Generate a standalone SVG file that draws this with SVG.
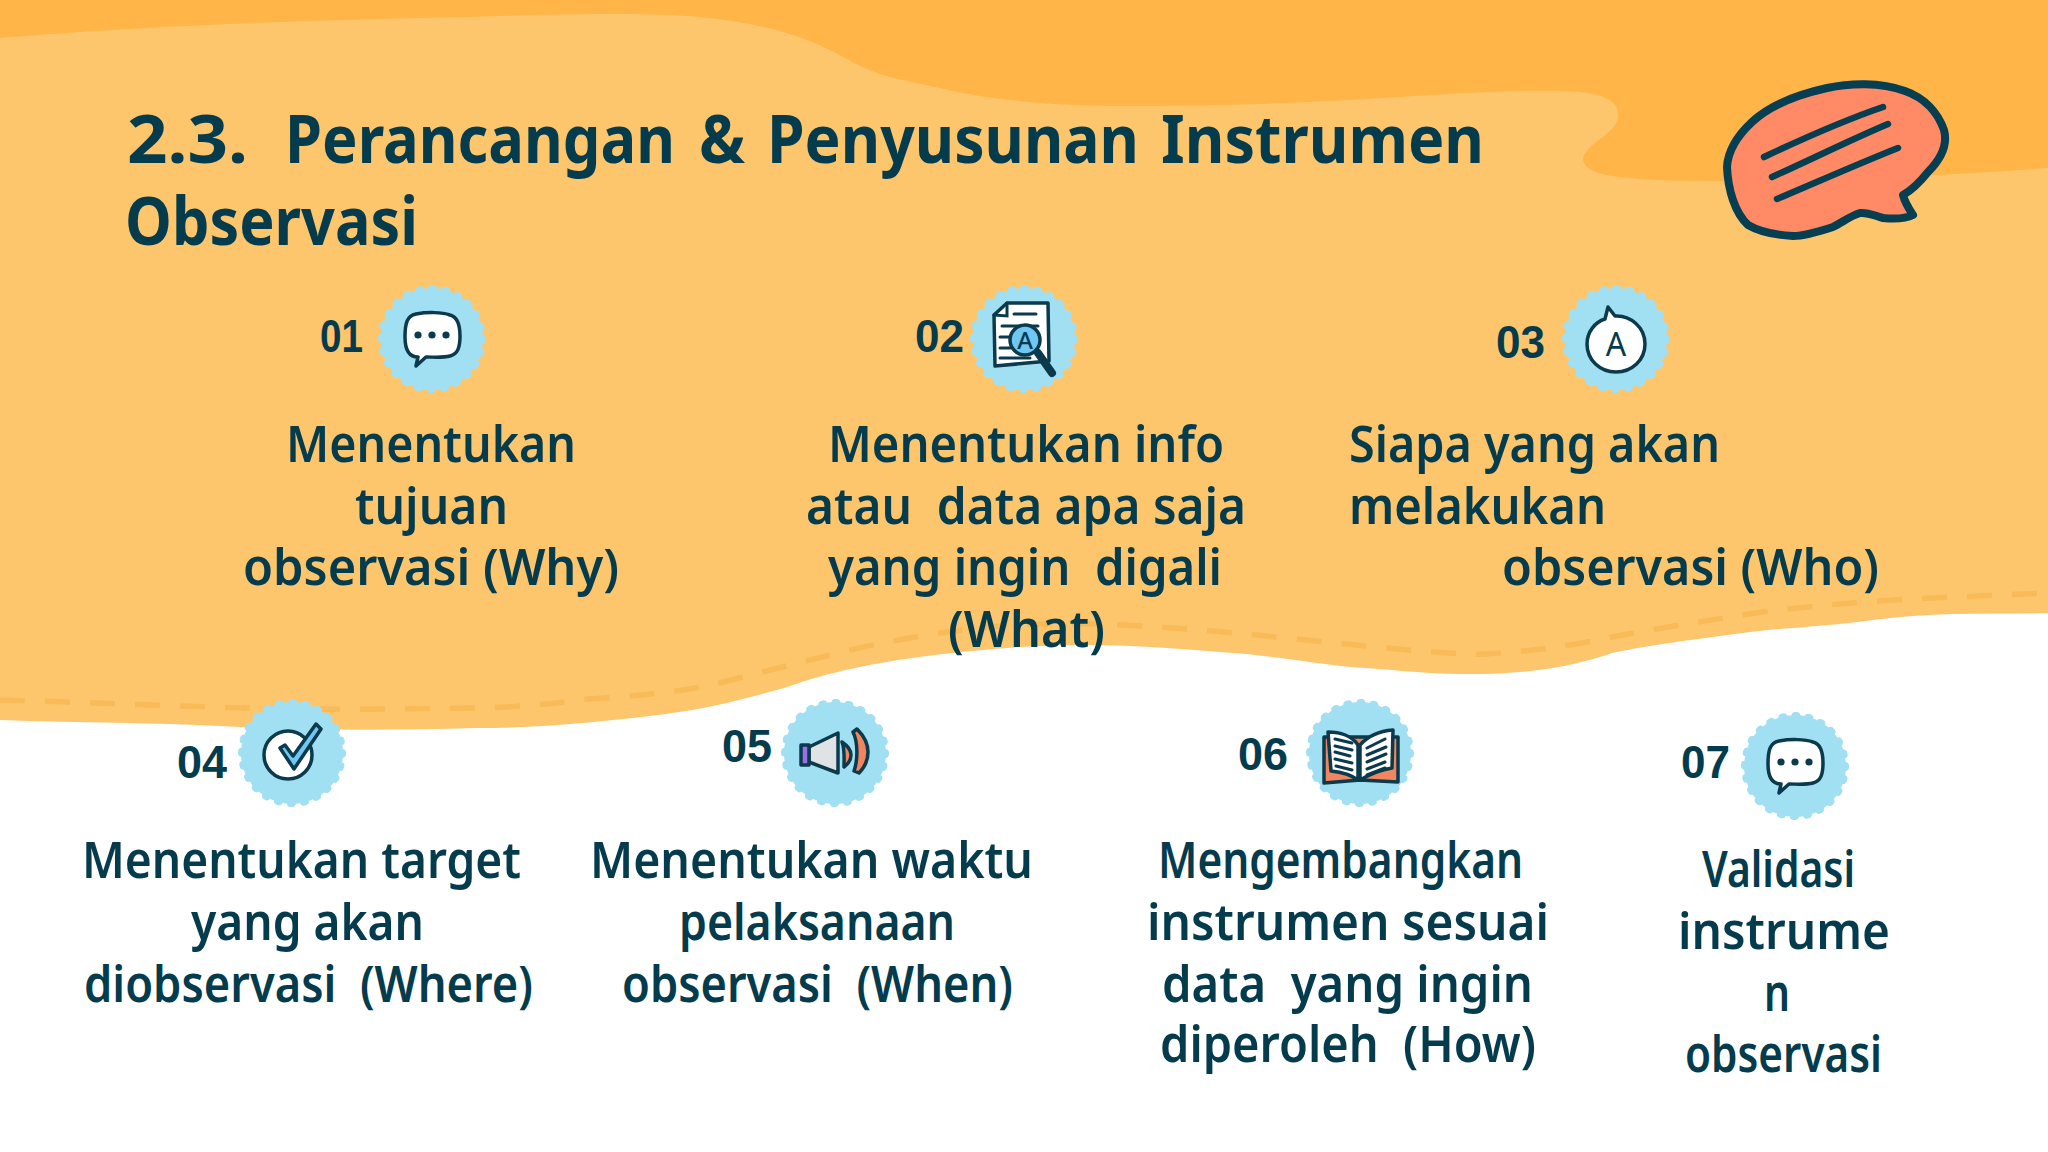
<svg xmlns="http://www.w3.org/2000/svg" width="2048" height="1152" viewBox="0 0 2048 1152">
<style>
text{font-family:"Noto Sans","Open Sans",sans-serif;fill:#043B4D;white-space:pre}
.t{font-size:66px;font-weight:700}
.l{font-size:50px;font-weight:600}
.n{font-family:"Liberation Sans",Arial,sans-serif;font-size:46px;font-weight:700}
.ic{stroke:#0A3A4C;stroke-width:3.5;stroke-linejoin:round;stroke-linecap:round}
.ln{fill:none;stroke:#0A3A4C;stroke-width:3;stroke-linecap:round}
</style>
<defs>
<g id="badge">
<circle r="51" fill="#A1E0F2"/>
<circle r="50" fill="none" stroke="#A1E0F2" stroke-width="8" stroke-linecap="round" stroke-dasharray="1 12.09"/>
</g>
<g id="chat">
<path class="ic" fill="#fff" d="M-16-25C-5-27 10-27 18-24C26-22 28-14 28-3C28 8 26 15 18 17C10 19 2 18-6 18L-16 27L-14 18C-22 18-27 12-27-2C-27-16-25-23-16-25Z"/>
<circle cx="-14" cy="-4" r="3.6" fill="#0A3A4C"/><circle cx="0" cy="-4" r="3.6" fill="#0A3A4C"/><circle cx="14" cy="-4" r="3.6" fill="#0A3A4C"/>
</g>
</defs>
<rect width="2048" height="1152" fill="#fff"/>
<g id="background">
<path fill="#FFB547" d="M0 0H2048V300H0Z"/>
<path fill="#FEC66C" d="M0 38C150 25 320 20 470 17C560 14 650 12 700 17C770 24 810 38 849 60C880 78 905 80 940 88C980 98 1040 106 1136 106C1210 106 1290 104 1400 97C1470 92 1530 90 1565 91C1600 93 1620 98 1618 118C1614 135 1588 142 1583 158C1583 172 1605 176 1630 178C1660 181 1690 181 1725 181C1820 181 1940 176 2048 168V613C1990 614 1930 612 1873 620C1820 627 1780 628 1743 633C1690 640 1650 645 1612 653C1580 664 1540 674 1468 674C1420 674 1390 669 1351 667C1310 663 1270 655 1220 652C1170 648 1130 645 1090 645C1040 645 1000 648 960 652C890 660 840 668 784 688C740 700 710 708 666 714C600 722 540 728 477 728C400 730 320 731 242 727C150 722 80 723 0 720Z"/>
<path fill="none" stroke="#F9BA58" stroke-width="5.5" stroke-dasharray="25 20" d="M0 700C80 702 170 706 242 708C330 710 400 709 477 708C520 707 550 704 588 699C640 696 680 692 719 683C770 670 810 660 850 650C885 642 920 636 947 632C1000 624 1060 622 1122 625C1180 628 1230 632 1285 638C1350 644 1400 650 1449 653C1480 655 1490 654 1501 653C1540 650 1575 645 1612 637C1660 628 1710 620 1762 612C1810 606 1850 603 1893 600C1950 597 2000 595 2048 593"/>
</g>
<g id="title">
<text class="t" y="163"><tspan x="127" textLength="121" lengthAdjust="spacingAndGlyphs">2.3.</tspan> <tspan x="285" textLength="390" lengthAdjust="spacingAndGlyphs">Perancangan</tspan> <tspan x="699" textLength="46" lengthAdjust="spacingAndGlyphs">&amp;</tspan> <tspan x="767" textLength="372" lengthAdjust="spacingAndGlyphs">Penyusunan</tspan> <tspan x="1161" textLength="323" lengthAdjust="spacingAndGlyphs">Instrumen</tspan></text>
<text class="t" x="125" y="245" textLength="293" lengthAdjust="spacingAndGlyphs">Observasi</text>
</g>
<g id="speech-bubble">
<path fill="#FF8A65" stroke="#063F52" stroke-width="8" stroke-linejoin="round" d="M1727 167C1728 150 1738 135 1752 122C1770 105 1800 94 1827 88C1850 83 1880 82 1905 91C1925 98 1938 113 1944 130C1948 145 1940 160 1928 172C1920 182 1912 190 1903 195C1905 203 1909 209 1913 215C1905 219 1893 219 1883 218C1875 216 1868 212 1860 213C1850 216 1843 222 1833 227C1818 232 1805 236 1793 236C1775 235 1760 232 1748 225C1735 213 1728 190 1727 167Z"/>
<path fill="none" stroke="#063F52" stroke-width="6.5" stroke-linecap="round" d="M1764 157C1800 140 1845 120 1883 107M1772 177C1810 160 1850 140 1888 124M1777 199C1815 183 1860 163 1898 148"/>
</g>
<g id="node-01">
<use href="#badge" x="432" y="339"/><use href="#chat" x="432" y="339"/>
<text class="n" x="320" y="352" textLength="43" lengthAdjust="spacingAndGlyphs">01</text>
<text class="l" x="286" y="462" textLength="290" lengthAdjust="spacingAndGlyphs">Menentukan</text>
<text class="l" x="355" y="524" textLength="153" lengthAdjust="spacingAndGlyphs">tujuan</text>
<text class="l" x="243" y="585" textLength="376" lengthAdjust="spacingAndGlyphs">observasi (Why)</text>
</g>
<g id="node-02">
<use href="#badge" x="1024" y="339"/>
<path class="ic" fill="#fff" d="M1007 303L1048 303L1049 361L995 366L994 315Z"/>
<path class="ln" d="M1007 303L1007 316L994 315M1014 314H1036M1002 326H1038M1000 337H1010M1000 348H1010M1000 358H1030"/>
<path fill="none" stroke="#0A3A4C" stroke-width="8" stroke-linecap="round" d="M1038 353L1052 373"/>
<circle class="ic" cx="1025" cy="340" r="15" fill="#6FC7F2"/>
<text x="1025" y="349" text-anchor="middle" style="font-size:24px;font-weight:500">A</text>
<text class="n" x="915" y="352" textLength="49" lengthAdjust="spacingAndGlyphs">02</text>
<text class="l" x="828" y="462" textLength="396" lengthAdjust="spacingAndGlyphs">Menentukan info</text>
<text class="l" x="806" y="524" textLength="440" lengthAdjust="spacingAndGlyphs">atau  data apa saja</text>
<text class="l" x="828" y="585" textLength="394" lengthAdjust="spacingAndGlyphs">yang ingin  digali</text>
<text class="l" x="948" y="647" textLength="157" lengthAdjust="spacingAndGlyphs">(What)</text>
</g>
<g id="node-03">
<use href="#badge" x="1616" y="339"/>
<path class="ic" fill="#fff" stroke-width="3" d="M1605 319L1608 307L1615 316C1630 315 1645 327 1645 344C1645 360 1632 372 1616 372C1600 372 1587 360 1587 344C1587 332 1595 322 1605 319Z"/>
<text x="1616" y="356" text-anchor="middle" style="font-size:32px;font-weight:400">A</text>
<text class="n" x="1496" y="358" textLength="49" lengthAdjust="spacingAndGlyphs">03</text>
<text class="l" x="1349" y="462" textLength="371" lengthAdjust="spacingAndGlyphs">Siapa yang akan</text>
<text class="l" x="1349" y="524" textLength="257" lengthAdjust="spacingAndGlyphs">melakukan</text>
<text class="l" x="1502" y="585" textLength="377" lengthAdjust="spacingAndGlyphs">observasi (Who)</text>
</g>
<g id="node-04">
<use href="#badge" x="292" y="753"/>
<circle class="ic" cx="288" cy="755" r="24" fill="#fff"/>
<path class="ic" fill="#6FC7F2" stroke-width="3" d="M280 748L285 745L293 756L316 724L321 729L294 769Z"/>
<text class="n" x="177" y="778" textLength="50" lengthAdjust="spacingAndGlyphs">04</text>
<text class="l" x="82" y="878" textLength="439" lengthAdjust="spacingAndGlyphs">Menentukan target</text>
<text class="l" x="191" y="940" textLength="233" lengthAdjust="spacingAndGlyphs">yang akan</text>
<text class="l" x="84" y="1002" textLength="449" lengthAdjust="spacingAndGlyphs">diobservasi  (Where)</text>
</g>
<g id="node-05">
<use href="#badge" x="835" y="753"/>
<path class="ic" stroke-width="2.5" fill="#E0E3E3" d="M809 747L838 733V773L809 762Z"/>
<rect class="ic" stroke-width="2.5" x="801" y="745" width="8" height="20" fill="#9C6FE8"/>
<path class="ic" stroke-width="2.5" fill="#F08560" d="M842 742C848 746 851 750 851 755C851 760 848 764 844 767C844 758 845 750 842 742Z"/>
<path class="ic" stroke-width="2.5" fill="#F08560" d="M857 729C864 736 868 745 868 752C868 760 864 768 859 773L854 771C858 760 858 742 853 732Z"/>
<text class="n" x="722" y="762" textLength="50" lengthAdjust="spacingAndGlyphs">05</text>
<text class="l" x="590" y="878" textLength="443" lengthAdjust="spacingAndGlyphs">Menentukan waktu</text>
<text class="l" x="679" y="940" textLength="276" lengthAdjust="spacingAndGlyphs">pelaksanaan</text>
<text class="l" x="622" y="1002" textLength="391" lengthAdjust="spacingAndGlyphs">observasi  (When)</text>
</g>
<g id="node-06">
<use href="#badge" x="1360" y="753"/>
<path class="ic" stroke-width="2.5" fill="#F08560" d="M1324 737H1398V782L1360 780L1324 783Z"/>
<path class="ic" stroke-width="2.5" fill="#fff" d="M1328 732C1340 732 1352 736 1358 745V780C1350 774 1340 772 1331 771Z"/>
<path class="ic" stroke-width="2.5" fill="#fff" d="M1393 730C1380 731 1368 736 1360 745L1360 780C1370 774 1380 770 1392 768Z"/>
<path class="ln" d="M1335 739L1352 743M1335 746L1352 750M1335 752L1350 756M1335 759L1352 763M1336 766L1352 770M1367 748L1385 739M1367 755L1386 747M1367 762L1386 754M1367 769L1385 762M1367 775L1385 768"/>
<text class="n" x="1238" y="770" textLength="50" lengthAdjust="spacingAndGlyphs">06</text>
<text class="l" x="1158" y="878" textLength="365" lengthAdjust="spacingAndGlyphs">Mengembangkan</text>
<text class="l" x="1147" y="940" textLength="402" lengthAdjust="spacingAndGlyphs">instrumen sesuai</text>
<text class="l" x="1162" y="1002" textLength="371" lengthAdjust="spacingAndGlyphs">data  yang ingin</text>
<text class="l" x="1160" y="1062" textLength="376" lengthAdjust="spacingAndGlyphs">diperoleh  (How)</text>
</g>
<g id="node-07">
<use href="#badge" x="1795" y="766"/><use href="#chat" x="1795" y="766"/>
<text class="n" x="1681" y="778" textLength="49" lengthAdjust="spacingAndGlyphs">07</text>
<text class="l" x="1702" y="887" textLength="153" lengthAdjust="spacingAndGlyphs">Validasi</text>
<text class="l" x="1678" y="949" textLength="212" lengthAdjust="spacingAndGlyphs">instrume</text>
<text class="l" x="1764" y="1011" textLength="26" lengthAdjust="spacingAndGlyphs">n</text>
<text class="l" x="1685" y="1072" textLength="197" lengthAdjust="spacingAndGlyphs">observasi</text>
</g>
</svg>
